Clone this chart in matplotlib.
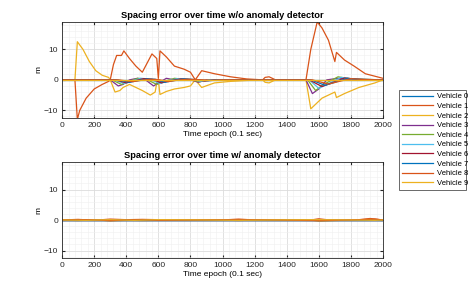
import numpy as np
import matplotlib
matplotlib.use('Agg')
import matplotlib.pyplot as plt
from matplotlib.ticker import MultipleLocator, AutoMinorLocator

plt.rcParams['font.family'] = ['Liberation Sans', 'DejaVu Sans']

# MATLAB default line colours, one per vehicle
colors = ['#0072BD', '#D95319', '#EDB120', '#7E2F8E', '#77AC30',
          '#4DBEEE', '#A2142F', '#0072BD', '#D95319', '#EDB120']
labels = ['Vehicle %d' % i for i in range(10)]

# top panel (w/o anomaly detector): knots, per vehicle
top_t = {
    0: [0, 2000],
    1: [0, 80, 95, 110, 150, 200, 250, 290, 300, 320, 340, 370, 385, 420, 460, 500, 540,
        560, 590, 600, 610, 650, 700, 760, 800, 830, 870, 950, 1050, 1150, 1250,
        1265, 1290, 1330, 1520, 1550, 1590, 1620, 1660, 1700, 1710, 1760, 1820,
        1890, 2000],
    2: [0, 80, 95, 130, 170, 210, 250, 290, 300, 330, 360, 380, 420, 500, 550, 580,
        590, 600, 610, 650, 700, 760, 800, 830, 870, 950, 1050, 1150, 1250, 1265,
        1290, 1330, 1520, 1550, 1580, 1620, 1660, 1700, 1710, 1760, 1850, 1950, 2000],
    3: [0, 300, 350, 380, 420, 470, 520, 570, 600, 650, 700, 800, 850, 900, 1520,
        1560, 1600, 1650, 1720, 1800, 2000],
    4: [0, 310, 370, 420, 470, 520, 590, 640, 700, 800, 860, 920, 1530, 1580,
        1630, 1720, 1800, 2000],
    5: [0, 320, 390, 440, 490, 540, 610, 660, 720, 820, 870, 930, 1540, 1600,
        1660, 1740, 1820, 2000],
    6: [0, 330, 400, 460, 510, 560, 620, 680, 740, 840, 890, 950, 1540, 1620,
        1680, 1760, 1840, 2000],
    7: [0, 340, 420, 480, 530, 580, 640, 700, 760, 860, 910, 970, 1550, 1640,
        1700, 1780, 1860, 2000],
    8: [0, 350, 440, 500, 550, 600, 660, 720, 780, 880, 930, 990, 1560, 1660,
        1720, 1800, 1880, 2000],
    9: [0, 2000],
}
top_v = {
    0: [0, 0],
    1: [0, 0, -13, -10, -6, -3, -1.5, -0.5, 0, 5, 8, 8, 9.5, 7, 4.5, 2.5, 6.5,
        8.5, 7, 0.5, 9.5, 7.5, 4.5, 3.5, 2.5, 0, 3, 2, 1, 0.3, 0,
        0.8, 1, 0, 0, 10, 19, 17, 13, 6, 9, 6.5, 4.5, 2, 0.5],
    2: [0, 0, 12.5, 10, 6, 3, 1.5, 0.8, 0, -4, -3.5, -2.5, -1.5, -3.5, -5, -4,
        -1, 0, -4.8, -3.8, -3, -2.5, -2, 0, -2.5, -1, -0.5, -0.2, 0, -0.8,
        -1, 0, 0, -9.5, -8, -6, -5, -4, -5.8, -4.5, -2.5, -1, 0],
    3: [0, 0, -2, -1.5, 0, 0.5, 0, -2, -1, 0.5, 0, 0, -0.8, 0, 0, -4.5, -3,
        0, 0.5, 0, 0],
    4: [0, 0, -1.5, -0.5, 0.5, 0.3, -1.5, -0.5, 0.5, 0, -0.6, 0, 0, -3.5, -1.5,
        1, 0.3, 0],
    5: [0, 0, -1.2, -0.3, 0.5, 0.3, -1.2, -0.3, 0.4, 0, -0.5, 0, 0, -2.8, -1.2,
        0.8, 0.2, 0],
    6: [0, 0, -1, -0.2, 0.4, 0.2, -1, -0.2, 0.3, 0, -0.4, 0, 0, -2.2, -1,
        0.6, 0.2, 0],
    7: [0, 0, -0.8, -0.2, 0.3, 0.2, -0.8, -0.2, 0.3, 0, -0.3, 0, 0, -1.8, -0.8,
        0.5, 0.1, 0],
    8: [0, 0, -0.6, -0.1, 0.2, 0.1, -0.6, -0.1, 0.2, 0, -0.2, 0, 0, -1.4, -0.6,
        0.4, 0.1, 0],
    9: [0, 0],
}

# bottom panel (w/ anomaly detector): everything stays close to zero
bot_t = {
    1: [0, 100, 200, 300, 400, 500, 600, 800, 1000, 1100, 1200, 1550, 1600, 1650,
        1750, 1850, 1920, 1970, 2000],
    2: [0, 100, 200, 300, 400, 500, 600, 800, 1000, 1100, 1200, 1550, 1600, 1650,
        1750, 1850, 1920, 1970, 2000],
    8: [0, 150, 300, 450, 600, 900, 1100, 1300, 1600, 1800, 1950, 2000],
    9: [0, 150, 300, 450, 600, 900, 1100, 1300, 1600, 1800, 1950, 2000],
}
bot_v = {
    1: [0, 0.2, -0.1, 0.3, 0.1, 0.2, 0.1, 0.1, 0, 0.3, 0, 0, 0.4, 0.1, 0, 0.1, 0.5,
        0.2, 0],
    2: [0, -0.2, 0.1, -0.3, -0.1, -0.2, -0.1, 0, 0, -0.2, 0, 0, -0.4, -0.3, -0.1,
        0, 0.2, 0.1, 0],
    8: [0, 0.1, -0.2, 0.1, -0.1, 0, 0.1, 0, -0.2, 0, 0.3, 0],
    9: [0, -0.1, 0.1, -0.1, 0.1, 0, -0.1, 0, 0.1, 0, -0.1, 0],
}

fig = plt.figure(figsize=(4.74, 2.92), dpi=100)
ax1 = fig.add_axes([0.131, 0.596, 0.677, 0.329])
ax2 = fig.add_axes([0.131, 0.116, 0.677, 0.329])


def style(ax, title):
    ax.set_xlim(0, 2000)
    ax.set_ylim(-12.5, 19)
    ax.xaxis.set_major_locator(MultipleLocator(200))
    ax.yaxis.set_major_locator(MultipleLocator(10))
    ax.xaxis.set_minor_locator(AutoMinorLocator(5))
    ax.yaxis.set_minor_locator(AutoMinorLocator(5))
    ax.grid(which='major', color='#dcdcdc', linewidth=0.6)
    ax.grid(which='minor', color='#efefef', linewidth=0.4)
    ax.set_axisbelow(True)
    ax.tick_params(which='both', direction='in', top=True, right=True,
                   labelsize=6, colors='#262626', length=2.5, pad=3)
    ax.tick_params(which='minor', length=0)
    for s in ax.spines.values():
        s.set_color('#262626')
        s.set_linewidth(0.6)
    ax.set_title(title, fontsize=6.7, fontweight='bold', pad=3)
    ax.set_xlabel('Time epoch (0.1 sec)', fontsize=6, labelpad=1.5)
    ax.set_ylabel('m', fontsize=6, labelpad=1)


lines = []
for i in range(10):
    ln, = ax1.plot(top_t[i], top_v[i], color=colors[i], linewidth=0.9,
                   label=labels[i])
    lines.append(ln)
for i in range(10):
    if i in bot_t:
        ax2.plot(bot_t[i], bot_v[i], color=colors[i], linewidth=0.9)
    else:
        ax2.plot([0, 2000], [0, 0], color=colors[i], linewidth=0.9)

style(ax1, 'Spacing error over time w/o anomaly detector')
style(ax2, 'Spacing error over time w/ anomaly detector')

leg = fig.legend(handles=lines, loc='lower left',
                 bbox_to_anchor=(0.842, 0.349, 0.141, 0.342), mode='expand',
                 fontsize=5.5, frameon=True, fancybox=False, borderaxespad=0,
                 handlelength=4, handletextpad=0.5, labelspacing=0.3,
                 borderpad=0.4)
leg.get_frame().set_edgecolor('#262626')
leg.get_frame().set_linewidth(0.6)

fig.savefig('out.png', dpi=100)
